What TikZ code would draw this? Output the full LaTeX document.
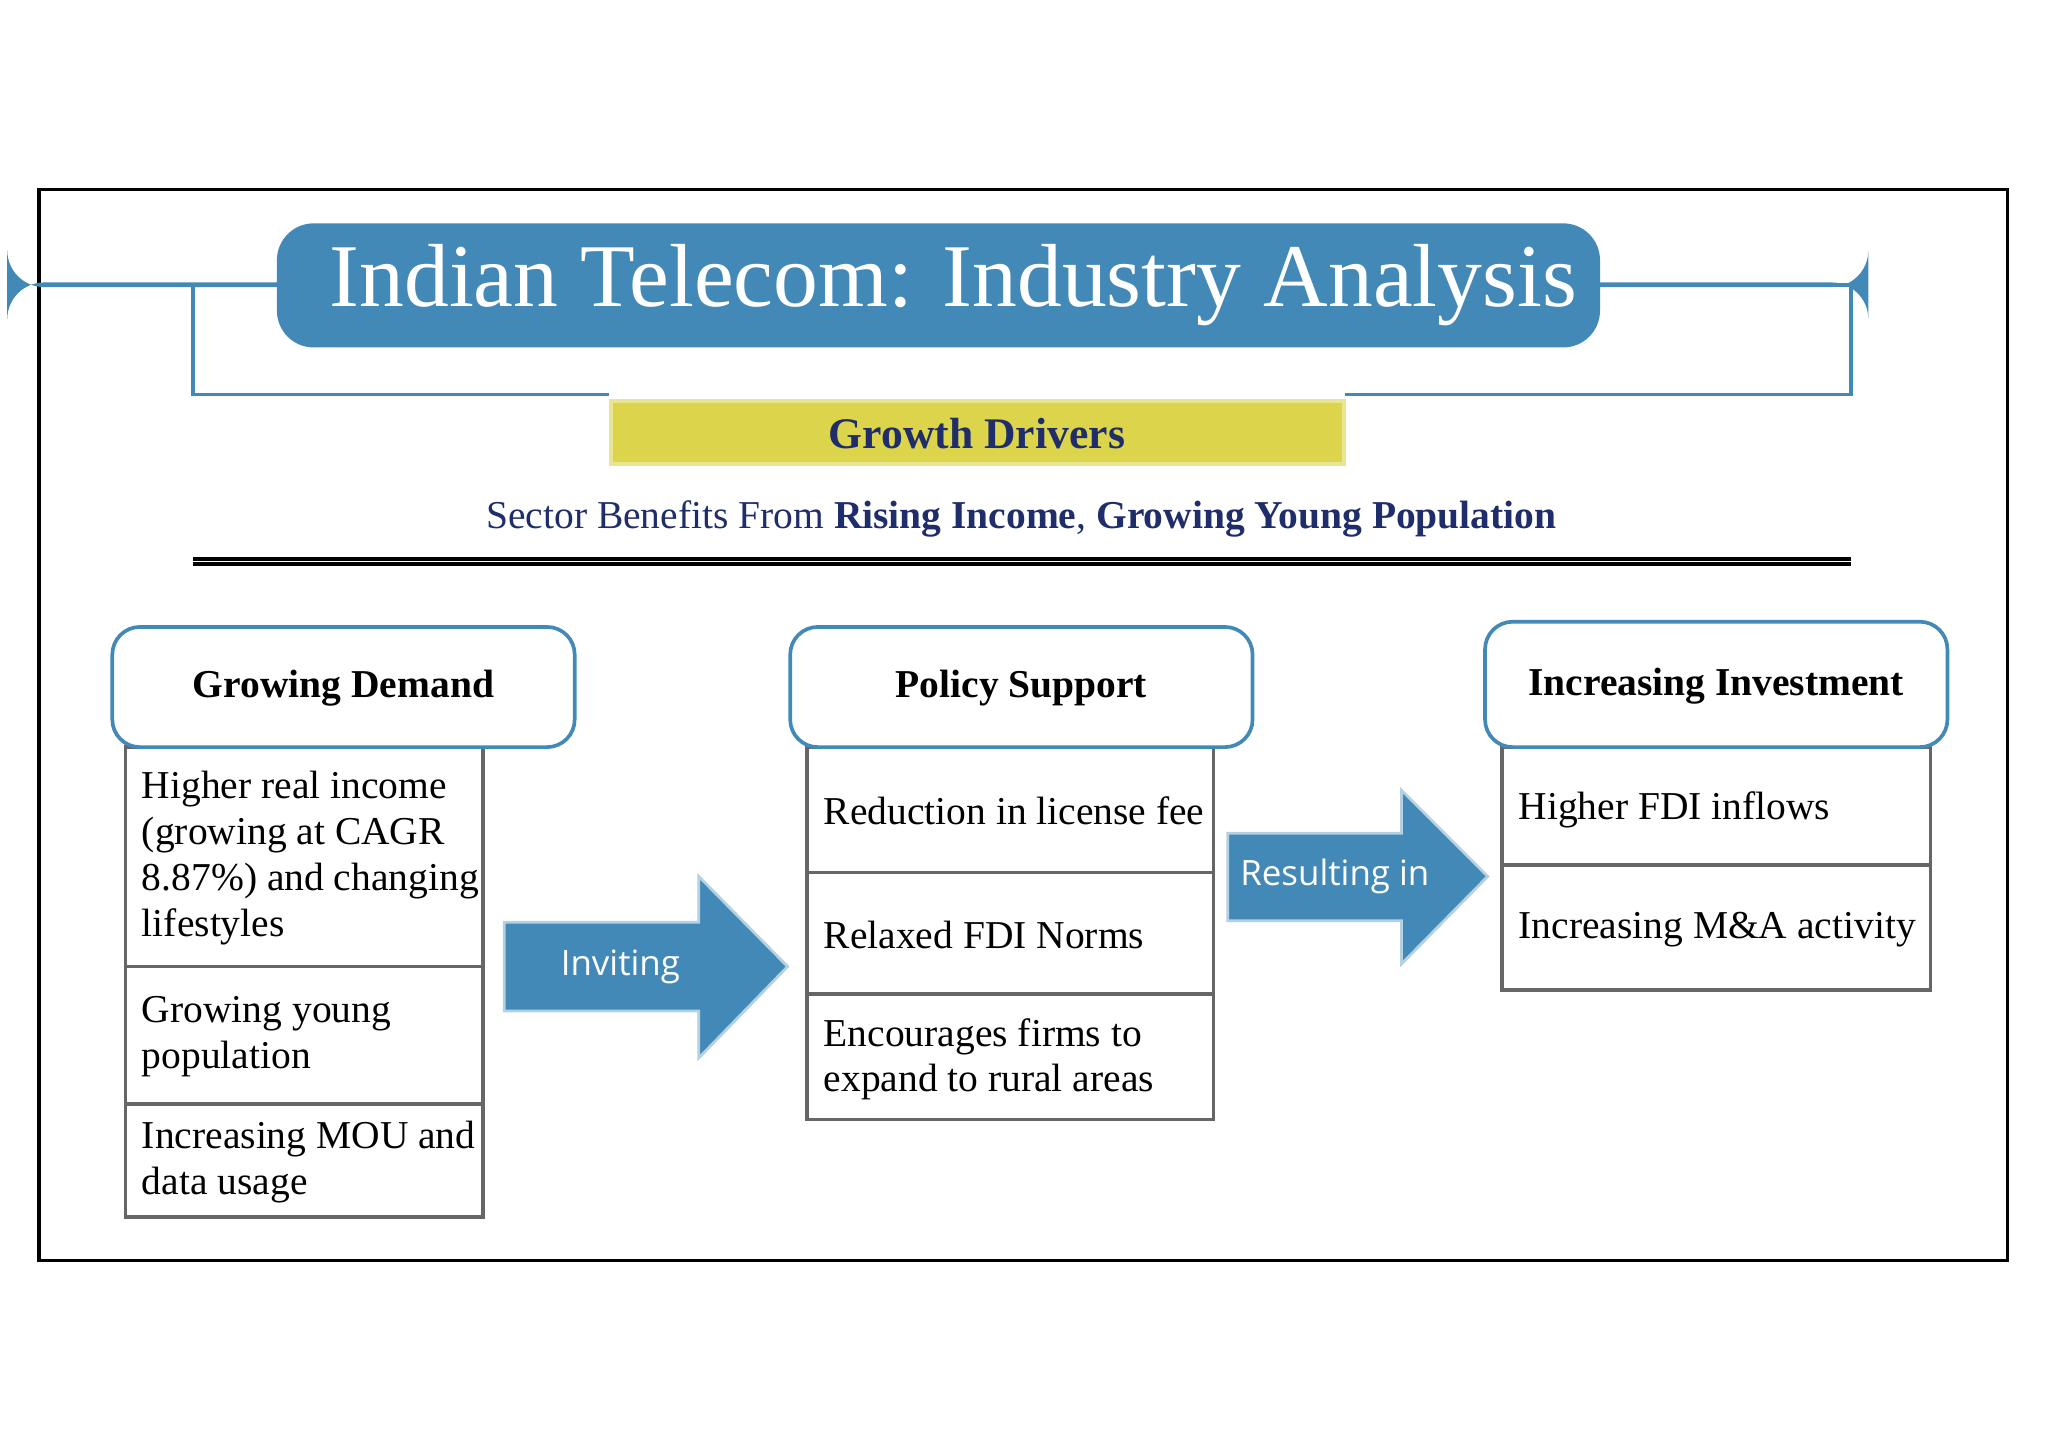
\documentclass[tikz,border=0pt]{standalone}
\usepackage{fontspec}
\setmainfont{Liberation Serif}
\newfontfamily\arrowfont{Open Sans}
\begin{document}
\begin{tikzpicture}[x=0.01cm,y=-0.01cm]
\definecolor{tblue}{HTML}{4389B8}
\definecolor{tyel}{HTML}{DCD44A}
\definecolor{tnavy}{HTML}{1F2D6B}
\tikzset{
  hdr/.style={draw=tblue,line width=0.8pt,rounded corners=6pt,fill=white},
  lst/.style={draw=gray!80!black,line width=0.8pt},
  itm/.style={anchor=west,align=left,font=\fontsize{8.6}{10}\selectfont,inner sep=0pt},
  htxt/.style={font=\fontsize{8.6}{10}\selectfont\bfseries},
  arr/.style={fill=tblue,draw=tblue!40,line width=0.6pt},
  atxt/.style={text=white,font=\arrowfont\fontsize{7.6}{9}\selectfont}
}
\useasboundingbox (0,0) rectangle (1568,1108);
\draw[line width=0.8pt] (30,145) rectangle (1537,965);
% bracket
\draw[tblue,line width=0.8pt] (466,302) -- (148,302) -- (148,218) -- (1417,218) -- (1417,302) -- (1030,302);
\node[fill=tblue,rounded corners=8pt,minimum width=1013\pgflinewidth,inner sep=0pt] (title) at (718,218) {};
\fill[tblue,rounded corners=8pt] (212,171) rectangle (1225,266);
\node[text=white,font=\fontsize{19.5}{22}\selectfont,anchor=west] (tt) at (240,218) {Indian Telecom: Industry Analysis};
\draw[fill=tyel,draw=tyel!60,line width=0.8pt] (468,307) rectangle (1029,355);
\node[text=tnavy,font=\fontsize{9.5}{11}\selectfont\bfseries] (gd) at (748,332) {Growth Drivers};
\node[text=tnavy,font=\fontsize{8.6}{10}\selectfont] (sub) at (782,397) {Sector Benefits From \textbf{Rising Income}, \textbf{Growing Young Population}};
\draw[line width=0.8pt] (148,428) -- (1417,428);
\draw[line width=0.8pt] (148,432) -- (1417,432);
% column 1
\draw[lst] (96,572) rectangle (370,932); \draw[lst] (96,740) -- (370,740); \draw[lst] (96,845) -- (370,845);
\draw[hdr] (86,480) rectangle (440,572);
\node[htxt] (h1) at (263,527) {Growing Demand};
\node[itm] (a1) at (108,657) {Higher real income\\(growing at CAGR\\8.87\%) and changing\\lifestyles};
\node[itm] (a2) at (108,794) {Growing young\\population};
\node[itm] (a3) at (108,890) {Increasing MOU and\\data usage};
% column 2
\draw[lst] (618,572) rectangle (929,857); \draw[lst] (618,668) -- (929,668); \draw[lst] (618,761) -- (929,761);
\draw[hdr] (605,480) rectangle (959,572);
\node[htxt] (h2) at (782,527) {Policy Support};
\node[itm] (b1) at (630,621) {Reduction in license fee};
\node[itm] (b2) at (630,716) {Relaxed FDI Norms};
\node[itm] (b3) at (630,811) {Encourages firms to\\expand to rural areas};
% column 3
\draw[lst] (1150,572) rectangle (1478,758); \draw[lst] (1150,662) -- (1478,662);
\draw[hdr] (1137,476) rectangle (1491,572);
\node[htxt] (h3) at (1314,525) {Increasing Investment};
\node[itm] (c1) at (1162,620) {Higher FDI inflows};
\node[itm] (c2) at (1162,712) {Increasing M\&A activity};
% arrows
\draw[arr] (386,706) -- (535,706) -- (535,671) -- (603,740) -- (535,810) -- (535,774) -- (386,774) -- cycle;
\node[atxt] (ar1) at (475,740) {Inviting};
\draw[arr] (940,638) -- (1073,638) -- (1073,605) -- (1139,671) -- (1073,738) -- (1073,705) -- (940,705) -- cycle;
\node[atxt] (ar2) at (1022,671) {Resulting in};
\end{tikzpicture}
\end{document}
